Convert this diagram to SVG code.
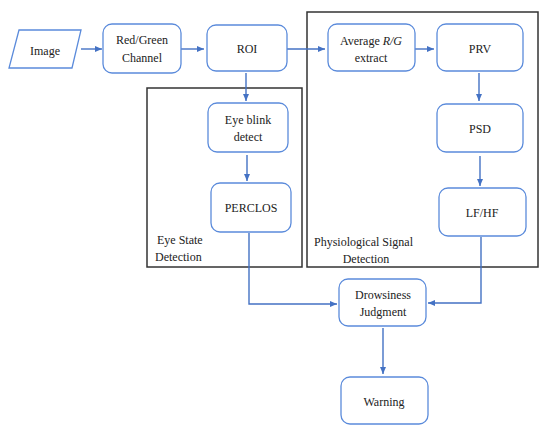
<svg xmlns="http://www.w3.org/2000/svg" width="550" height="433" viewBox="0 0 550 433" font-family="'Liberation Serif', 'DejaVu Serif', serif" font-size="12">
<defs>
<marker id="ah" markerWidth="8" markerHeight="8" refX="7" refY="4" orient="auto" markerUnits="userSpaceOnUse">
<path d="M0,1 L7,4 L0,7 Z" fill="#4472C4"/>
</marker>
<style>
.box{fill:#fff;stroke:#5B8BDB;stroke-width:1.3}
.grp{fill:none;stroke:#333;stroke-width:1.5}
text{font-family:'Liberation Serif','DejaVu Serif',serif;font-size:12px;fill:#222}
.t{text-anchor:middle}
.c{fill:none;stroke:#4472C4;stroke-width:1.4;marker-end:url(#ah)}
</style>
</defs>
<rect width="550" height="433" fill="#fff"/>
<g id="eye-state-group">
<rect class="grp" x="147" y="88" width="155" height="179"/>
<text x="157" y="244">Eye State</text>
<text x="155" y="261">Detection</text>
</g>
<g id="physio-group">
<rect class="grp" x="307" y="12" width="231" height="255"/>
<text x="314" y="246">Physiological Signal</text>
<text class="t" x="366" y="263">Detection</text>
</g>
<g id="connectors">
<path class="c" d="M81,49 H102"/>
<path class="c" d="M181,49 H204"/>
<path class="c" d="M287,49 H325"/>
<path class="c" d="M415,49 H434"/>
<path class="c" d="M246,73 V101"/>
<path class="c" d="M479,73 V101"/>
<path class="c" d="M247,155 V181"/>
<path class="c" d="M480,156 V186"/>
<path class="c" d="M249,233 V304 H337"/>
<path class="c" d="M481,237 V303 H428"/>
<path class="c" d="M383,328 V374"/>
</g>
<g id="image">
<path class="box" d="M19,30 H81 L72,68 H9 Z"/>
<text class="t" x="45" y="55">Image</text>
</g>
<g id="redgreen">
<rect class="box" x="103" y="24" width="78" height="49" rx="9"/>
<text class="t" x="142" y="44">Red/Green</text>
<text class="t" x="142" y="62">Channel</text>
</g>
<g id="roi">
<rect class="box" x="207" y="25" width="80" height="46" rx="9"/>
<text class="t" x="247" y="53">ROI</text>
</g>
<g id="average">
<rect class="box" x="328" y="24" width="87" height="47" rx="9"/>
<text class="t" x="371" y="45">Average <tspan font-style="italic">R/G</tspan></text>
<text class="t" x="371" y="62">extract</text>
</g>
<g id="prv">
<rect class="box" x="437" y="24" width="86" height="47" rx="9"/>
<text class="t" x="480" y="53">PRV</text>
</g>
<g id="eyeblink">
<rect class="box" x="208" y="103" width="80" height="49" rx="9"/>
<text class="t" x="248" y="124">Eye blink</text>
<text class="t" x="248" y="141">detect</text>
</g>
<g id="perclos">
<rect class="box" x="211" y="183" width="80" height="49" rx="9"/>
<text class="t" x="251" y="212">PERCLOS</text>
</g>
<g id="psd">
<rect class="box" x="437" y="104" width="86" height="48" rx="9"/>
<text class="t" x="480" y="133">PSD</text>
</g>
<g id="lfhf">
<rect class="box" x="439" y="188" width="87" height="48" rx="9"/>
<text class="t" x="482" y="217">LF/HF</text>
</g>
<g id="drowsiness">
<rect class="box" x="339" y="279" width="87" height="47" rx="9"/>
<text class="t" x="383" y="299">Drowsiness</text>
<text class="t" x="383" y="316">Judgment</text>
</g>
<g id="warning">
<rect class="box" x="341" y="377" width="87" height="47" rx="9"/>
<text class="t" x="384" y="406">Warning</text>
</g>
</svg>
